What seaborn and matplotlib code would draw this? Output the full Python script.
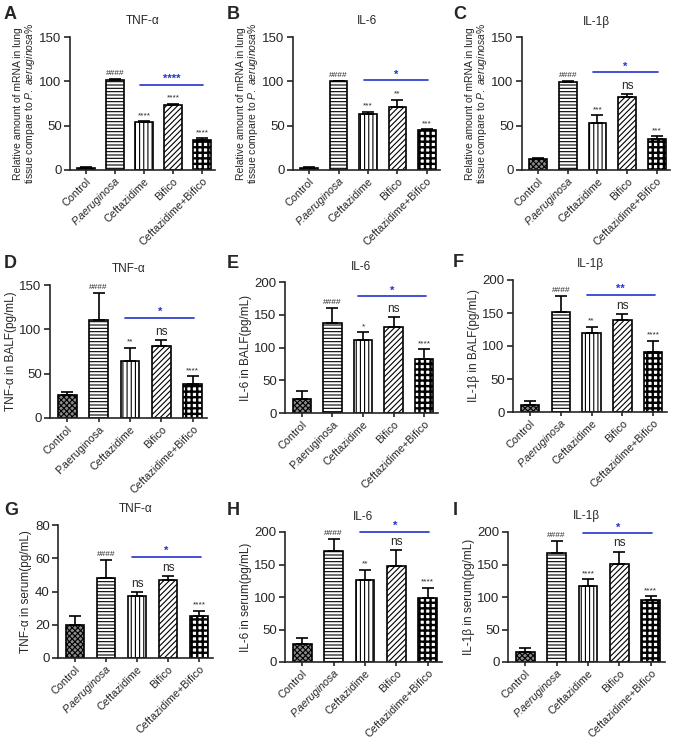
import numpy as np
import pandas as pd
import matplotlib
matplotlib.use('Agg')
import matplotlib.pyplot as plt
import seaborn as sns

sns.set_style('ticks')
plt.rcParams['font.family'] = ['Liberation Sans', 'DejaVu Sans']
plt.rcParams['mathtext.fontset'] = 'custom'
plt.rcParams['mathtext.rm'] = 'Liberation Sans'
plt.rcParams['mathtext.it'] = 'Liberation Sans:italic'
plt.rcParams['hatch.linewidth'] = 0.8

groups = ['Control', 'P.aeruginosa', 'Ceftazidime', 'Bifico', 'Ceftazidime+Bifico']

letters = ['A', 'B', 'C', 'D', 'E', 'F', 'G', 'H', 'I']
titles = ['TNF-α', 'IL-6', 'IL-1β'] * 3
mrna_label = 'Relative amount of mRNA in lung\ntissue compare to $\\it{P.\\ aeruginosa}$%'
ylabels = [mrna_label, mrna_label, mrna_label,
           'TNF-α in BALF(pg/mL)', 'IL-6 in BALF(pg/mL)', 'IL-1β in BALF(pg/mL)',
           'TNF-α in serum(pg/mL)', 'IL-6 in serum(pg/mL)', 'IL-1β in serum(pg/mL)']

# mean values per panel
means = [
    [2, 101, 54, 73, 34],
    [2, 100, 63, 71, 45],
    [12, 99, 53, 82, 35],
    [26, 110, 64, 81, 38],
    [22, 138, 111, 131, 82],
    [11, 151, 120, 140, 91],
    [20, 48, 37, 47, 25],
    [27, 171, 126, 148, 99],
    [16, 167, 117, 151, 96],
]
# upper error (SD)
errs = [
    [1, 1.5, 1.2, 1.5, 2],
    [1, 0.8, 2.5, 8, 1.2],
    [2, 1, 9, 4, 3],
    [3, 31, 15, 7, 9],
    [11, 22, 12, 16, 15],
    [6, 25, 9, 9, 17],
    [5.5, 11, 2.5, 2.2, 3.5],
    [10, 18, 16, 24, 15],
    [6, 19, 10, 19, 5],
]
marks = [
    ['', '####', '****', '****', '****'],
    ['', '####', '***', '**', '***'],
    ['', '####', '***', 'ns', '***'],
    ['', '####', '**', 'ns', '****'],
    ['', '####', '*', 'ns', '****'],
    ['', '####', '**', 'ns', '****'],
    ['', '####', 'ns', 'ns', '****'],
    ['', '####', '**', 'ns', '****'],
    ['', '####', '****', 'ns', '****'],
]
blue_marks = ['****', '*', '*', '*', '*', '**', '*', '*', '*']
blue_y = [96, 101, 110, 113, 178, 178, 61, 200, 198]
ymaxs = [150, 150, 150, 150, 200, 200, 80, 200, 200]
ysteps = [50, 50, 50, 50, 50, 50, 20, 50, 50]

# axes boxes in pixels: left, top, right, bottom
boxes = [(70, 37, 215, 170), (293, 37, 440, 170), (522, 37, 670, 170),
         (50, 285, 207, 418), (285, 282, 438, 413), (513, 280, 667, 412),
         (58, 525, 213, 658), (285, 532, 442, 662), (508, 532, 665, 662)]
letter_pos = [(4, 6), (227, 6), (453, 6), (4, 255), (227, 255), (453, 254),
              (4, 502), (227, 502), (453, 502)]

hatches = ['xxxxxx', '-----', '||||', '//////', '+++']
faces = ['#8a8a8a', 'white', 'white', 'white', 'white']
blue = '#2233cc'

W, H = 685, 745
fig = plt.figure(figsize=(W / 100, H / 100), dpi=100)

for i in range(9):
    l, t, r, b = boxes[i]
    ax = fig.add_axes([l / W, 1 - b / H, (r - l) / W, (b - t) / H])
    df = pd.DataFrame({'group': groups, 'value': means[i]})
    sns.barplot(data=df, x='group', y='value', ax=ax, color='white',
                edgecolor='black', linewidth=1.2, width=0.6, errorbar=None)
    for k, (p, h, fc) in enumerate(zip(ax.patches, hatches, faces)):
        p.set_hatch(h)
        p.set_facecolor(fc)
        if k == 4 and hasattr(p, 'set_hatch_linewidth'):
            p.set_hatch_linewidth(1.7)
    x = np.arange(len(groups))
    ax.errorbar(x, means[i], yerr=[np.zeros(5), errs[i]], fmt='none',
                ecolor='black', elinewidth=1.2, capsize=4, capthick=1.2, zorder=1)
    for xi, m, e, s in zip(x, means[i], errs[i], marks[i]):
        if not s:
            continue
        fs = 8.5 if s == 'ns' else 6
        ax.annotate(s, (xi, m + e), xytext=(0, 1.5), textcoords='offset points',
                    ha='center', va='bottom', fontsize=fs)
    ax.plot([1.85, 4.05], [blue_y[i], blue_y[i]], color=blue, lw=1.2, clip_on=False)
    ax.annotate(blue_marks[i], (2.95, blue_y[i]), xytext=(0, 0.5),
                textcoords='offset points', ha='center', va='bottom',
                fontsize=8, color=blue, fontweight='bold', annotation_clip=False)

    ax.set_ylim(0, ymaxs[i])
    ax.set_yticks(np.arange(0, ymaxs[i] + 1, ysteps[i]))
    ax.set_xlim(-0.55, 4.45)
    ax.set_xticks(x)
    ax.set_xticklabels(groups, rotation=45, ha='right', rotation_mode='anchor', fontsize=7.8)
    if i not in (3, 4):
        ax.get_xticklabels()[1].set_fontstyle('italic')
    ax.tick_params(axis='y', labelsize=9.5, length=4, width=1.2, pad=2)
    ax.tick_params(axis='x', length=3, width=1.2, pad=1.5)
    ax.set_xlabel('')
    ax.set_ylabel(ylabels[i], fontsize=7.5 if i < 3 else 8.5, labelpad=2,
                  linespacing=1.0)
    ax.set_title(titles[i], fontsize=8.5, pad=9)
    for sp in ['left', 'bottom']:
        ax.spines[sp].set_linewidth(1.2)
    sns.despine(ax=ax)
    fig.text(letter_pos[i][0] / W, 1 - letter_pos[i][1] / H, letters[i],
             fontsize=13, fontweight='bold', ha='left', va='top')

fig.savefig('out.png', dpi=100)
